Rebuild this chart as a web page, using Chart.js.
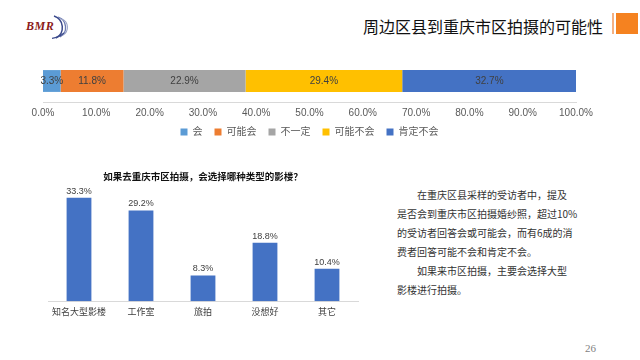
<html>
<head>
  <meta charset="utf-8">
  <style>
    body{
      margin: 0;
      width: 640px;
      height: 360px;
      background: #FFF;
      overflow: hidden;
      font-family: 'Noto Sans CJK SC', sans-serif;
      position: relative;
    }
    .abs{ position: absolute; }
    #title{
      right: 37px; top: 14px;
      font-size: 16px; color: #111;
      white-space: nowrap;
    }
    #thin{ left: 612px; top: 13px; width: 2px; height: 21px; background: #F4B183; }
    #block{ left: 616px; top: 13px; width: 22px; height: 21px; background: #F58220; }
    #logo{ left: 26px; top: 19px; font: italic bold 12px 'Liberation Serif', serif; color: #8B1A1A; letter-spacing: 0.5px; }
    #note{
      left: 397px; top: 185px;
      font-size: 10px; line-height: 19px; color: #333;
      white-space: nowrap;
    }
    #page{ left: 585px; top: 342px; font: 11px 'Liberation Serif', serif; color: #7F7F7F; }
  </style>
  <script src="https://cdn.jsdelivr.net/npm/chart.js"></script>
</head>
<body>

<div id="logo" class="abs">BMR</div>
<svg class="abs" style="left:52px;top:13px" width="24" height="28">
  <path d="M2 3 A12 12 0 0 1 4 25" stroke="#3B4A8C" stroke-width="1.5" fill="none"/>
  <path d="M6 4 A11 11 0 0 1 8 24" stroke="#6C7AB0" stroke-width="1.3" fill="none"/>
  <path d="M10 6 A9 9 0 0 1 11 22" stroke="#9AA4C8" stroke-width="1.1" fill="none"/>
  <path d="M-8 25 Q4 27 12 20" stroke="#3B4A8C" stroke-width="1.2" fill="none"/>
</svg>
<div id="title" class="abs">周边区县到重庆市区拍摄的可能性</div>
<div id="thin" class="abs"></div>
<div id="block" class="abs"></div>

<canvas id="topChart" class="abs" style="left:0;top:50px" width="640" height="97"></canvas>
<canvas id="barChart" class="abs" style="left:0;top:165px" width="370" height="166"></canvas>

<div id="note" class="abs">&emsp;&emsp;在重庆区县采样的受访者中，提及<br>是否会到重庆市区拍摄婚纱照，超过10%<br>的受访者回答会或可能会，而有6成的消<br>费者回答可能不会和肯定不会。<br>&emsp;&emsp;如果来市区拍摄，主要会选择大型<br>影楼进行拍摄。</div>
<div id="page" class="abs">26</div>

<script>
  // top stacked bar: answers to "would you shoot in the city"
  var answers = ['会', '可能会', '不一定', '可能不会', '肯定不会'];
  var answerShares = [3.3, 11.8, 22.9, 29.4, 32.7];
  var answerColors = ['#5B9BD5', '#ED7D31', '#A5A5A5', '#FFC000', '#4472C4'];
  var pctTicks = [0, 10, 20, 30, 40, 50, 60, 70, 80, 90, 100];

  // bottom bars: which studio type
  var studioTypes = ['知名大型影楼', '工作室', '旅拍', '没想好', '其它'];
  var studioShares = [33.3, 29.2, 8.3, 18.8, 10.4];

  var FONT = "'Liberation Sans', 'Noto Sans CJK SC', sans-serif";

  // simple value labels, no datalabels plugin available offline
  var valueLabels = {
    id: 'valueLabels',
    afterDatasetsDraw: function(chart, args, opts) {
      var c = chart.ctx;
      c.save();
      c.font = opts.size + 'px ' + FONT;
      c.fillStyle = opts.color;
      c.textAlign = 'center';
      chart.data.datasets.forEach(function(ds, di) {
        chart.getDatasetMeta(di).data.forEach(function(el, i) {
          var txt = ds.data[i].toFixed(1) + '%';
          if (opts.mode === 'inside') {
            c.textBaseline = 'middle';
            c.fillText(txt, (el.x + el.base) / 2, el.y);
          } else {
            c.textBaseline = 'bottom';
            c.fillText(txt, el.x, el.y - 2);
          }
        });
      });
      c.restore();
    }
  };

  // x axis is squeezed so the legend sits close; give the labels back their clip room
  var unclipTicks = {
    id: 'unclipTicks',
    afterLayout: function(chart) {
      var s = chart.scales.x;
      s.bottom = s.top + 24;
    }
  };

  Chart.defaults.font.family = FONT;
  Chart.defaults.animation = false;

  new Chart(document.getElementById('topChart'), {
    type: 'bar',
    data: {
      labels: [''],
      datasets: answers.map(function(a, i) {
        return {
          label: a,
          data: [answerShares[i]],
          backgroundColor: answerColors[i],
          barPercentage: 0.52,
          categoryPercentage: 1
        };
      })
    },
    plugins: [valueLabels, unclipTicks],
    options: {
      responsive: false,
      indexAxis: 'y',
      layout: { padding: { top: 10, left: 43, right: 64, bottom: 0 } },
      plugins: {
        legend: {
          position: 'bottom',
          labels: { boxWidth: 7, boxHeight: 7, padding: 12, color: '#595959', font: { size: 10 } }
        },
        tooltip: { enabled: false },
        valueLabels: { mode: 'inside', size: 10, color: '#404040' }
      },
      scales: {
        x: {
          stacked: true,
          min: 0, max: 100,
          afterBuildTicks: function(s) { s.ticks = pctTicks.map(function(v) { return { value: v }; }); },
          afterFit: function(s) { s.height = 13; },
          ticks: {
            padding: 5, color: '#595959', font: { size: 10 },
            callback: function(v) { return v.toFixed(1) + '%'; }
          },
          grid: { display: false, drawTicks: false },
          border: { display: true, color: '#D9D9D9' }
        },
        y: { stacked: true, display: false }
      }
    }
  });

  new Chart(document.getElementById('barChart'), {
    type: 'bar',
    data: {
      labels: studioTypes,
      datasets: [{
        data: studioShares,
        backgroundColor: '#4472C4',
        barPercentage: 0.4,
        categoryPercentage: 1
      }]
    },
    plugins: [valueLabels],
    options: {
      responsive: false,
      layout: { padding: { top: 6, left: 48, right: 12, bottom: 7 } },
      plugins: {
        legend: { display: false },
        tooltip: { enabled: false },
        title: {
          display: true,
          text: '如果去重庆市区拍摄，会选择哪种类型的影楼？',
          color: '#111',
          font: { size: 9.5, weight: 'bold' },
          padding: { top: 1, bottom: 9 }
        },
        valueLabels: { mode: 'top', size: 9, color: '#404040' }
      },
      scales: {
        x: {
          ticks: { padding: 6, color: '#404040', font: { size: 9 }, maxRotation: 0, autoSkip: false },
          grid: { display: false, drawTicks: false },
          border: { display: true, color: '#D9D9D9' }
        },
        y: { display: false, min: 0, max: 35 }
      }
    }
  });
</script>
</body>
</html>
